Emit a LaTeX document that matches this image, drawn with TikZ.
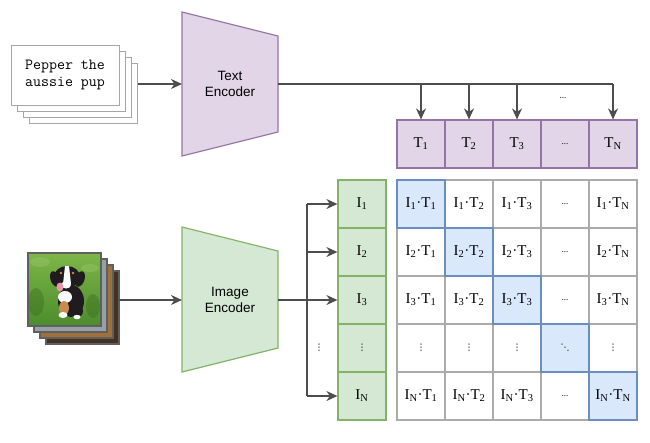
\documentclass[tikz,border=0pt]{standalone}
\usepackage{fontspec}
\setmainfont{Liberation Serif}
\newfontfamily\arialf{Liberation Sans}
\newfontfamily\dejavuf{DejaVu Sans}
\usetikzlibrary{arrows.meta}
\definecolor{ln}{HTML}{4D4D4D}
\definecolor{pfill}{HTML}{E1D5E7}
\definecolor{pline}{HTML}{9673A6}
\definecolor{gfill}{HTML}{D5E8D4}
\definecolor{gline}{HTML}{82B366}
\definecolor{bfill}{HTML}{DAE8FC}
\definecolor{bline}{HTML}{6C8EBF}
\definecolor{cline}{HTML}{ABABAB}
\definecolor{sheet}{HTML}{A6A6A6}
\definecolor{grass}{HTML}{4C8C2C}
\definecolor{grasslt}{HTML}{7DB648}
\definecolor{fur}{HTML}{1F1B1E}
\definecolor{ph4}{RGB}{70,48,34}
\definecolor{ph3}{RGB}{160,112,60}
\definecolor{ph2}{RGB}{150,160,168}
\definecolor{tongue}{RGB}{230,150,170}
\definecolor{tan}{RGB}{200,140,80}
\definecolor{brow}{RGB}{210,140,60}
\tikzset{
  arr/.style={draw=ln, line width=1.1pt, -{Stealth[length=11pt,width=10pt,inset=3.5pt]}},
  plain/.style={draw=ln, line width=1.1pt},
  paper/.style={draw=sheet, fill=white, line width=1pt, minimum width=108pt, minimum height=60pt, inner sep=0pt},
  tcell/.style={draw=pline, fill=pfill, line width=1.2pt, minimum width=48pt, minimum height=48pt, inner sep=0pt, font=\fontsize{15}{17}\selectfont},
  icell/.style={draw=gline, fill=gfill, line width=1.2pt, minimum width=48pt, minimum height=48pt, inner sep=0pt, font=\fontsize{15}{17}\selectfont},
  mcell/.style={draw=cline, fill=white, line width=1.2pt, minimum width=48pt, minimum height=48pt, inner sep=0pt, font=\fontsize{15}{17}\selectfont},
  dcell/.style={draw=bline, fill=bfill, line width=1.2pt, minimum width=48pt, minimum height=48pt, inner sep=0pt, font=\fontsize{15}{17}\selectfont},
  enc/.style={font=\arialf\fontsize{13.5}{16.5}\selectfont, align=center, inner sep=0pt},
  smalldots/.style={font=\fontsize{9}{10}\selectfont, inner sep=0pt},
  vdots/.style={font=\dejavuf\fontsize{9}{10}\selectfont, inner sep=0pt},
  photo/.style={draw=ln!90, line width=1.2pt},
}
\newcommand{\Is}[1]{I\textsubscript{#1}}
\newcommand{\Ts}[1]{T\textsubscript{#1}}
\begin{document}
\begin{tikzpicture}[x=1pt,y=-1pt]
\useasboundingbox (0,0) rectangle (650,442);

% ---------- text stack ----------
\node[paper] (s4) at (83,93) {};
\node[paper] (s3) at (77,87) {};
\node[paper] (s2) at (71,81) {};
\node[paper, font=\ttfamily\fontsize{15.5}{17}\selectfont, align=left] (s1) at (65,75) {Pepper the\\aussie pup};

% ---------- text encoder ----------
\draw[draw=pline, fill=pfill, line width=1.2pt] (182,12) -- (278,36) -- (278,132) -- (182,156) -- cycle;
\node[enc] (te) at (230,84) {Text\\Encoder};
\coordinate (teL) at (182,84);
\coordinate (teR) at (278,84);
\draw[arr] (s4.east |- teL) -- (teL);

% ---------- T row ----------
\node[tcell] (t1) at (421,144) {\Ts{1}};
\node[tcell] (t2) at (469,144) {\Ts{2}};
\node[tcell] (t3) at (517,144) {\Ts{3}};
\node[tcell] (t4) at (565,144) {\fontsize{9}{10}\selectfont ...};
\node[tcell] (t5) at (613,144) {\Ts{N}};
\draw[plain] (teR) -- (t5.north |- teR);
\foreach \k in {1,2,3,5} {\draw[arr] (t\k.north |- teR) -- (t\k.north);}
\node[smalldots] (tdots) at (563,98) {...};

% ---------- image stack ----------
\draw[photo, fill=ph4] (46,271) rectangle (119,344);
\draw[photo, fill=ph3] (40,265) rectangle (113,338);
\draw[photo, fill=ph2] (34,259) rectangle (107,332);
\begin{scope}
\clip (28,253) rectangle (101,326);
\shade[top color=grasslt, bottom color=grass] (28,253) rectangle (101,326);
\fill[grasslt!80!white, opacity=0.45] (40,262) ellipse (10 and 5);
\fill[grasslt!80!white, opacity=0.45] (90,268) ellipse (9 and 4);
\fill[grass!70!black, opacity=0.35] (36,302) ellipse (8 and 14);
\fill[grass!70!black, opacity=0.35] (93,306) ellipse (7 and 12);
% dog
\fill[fur] (71,301) ellipse (13 and 16);
\fill[fur] (67,277) ellipse (13 and 11);
\fill[fur, rotate around={20:(55,279)}] (55,279) ellipse (4.5 and 8);
\fill[fur, rotate around={-20:(80,279)}] (80,279) ellipse (4.5 and 8);
\fill[white] (65,266) -- (69,266) -- (71,284) -- (63,284) -- cycle;
\fill[white] (66,285) ellipse (5 and 3.5);
\fill[tongue] (60,287) ellipse (3.5 and 4.5);
\fill[white] (65,297) ellipse (7 and 6);
\fill[tan] (64,308) ellipse (5 and 7);
\fill[white] (63,315) ellipse (4.5 and 3);
\fill[fur] (78,311) ellipse (5 and 6);
\fill[white] (77,317) ellipse (3.5 and 2.2);
\fill[brow] (61,273) circle (1.4);
\fill[brow] (73,273) circle (1.4);
\end{scope}
\draw[photo] (28,253) rectangle (101,326);
\coordinate (imgR) at (119,300);

% ---------- image encoder ----------
\draw[draw=gline, fill=gfill, line width=1.2pt] (182,227) -- (278,251) -- (278,348) -- (182,372) -- cycle;
\node[enc] (ie) at (230,300) {Image\\Encoder};
\coordinate (ieL) at (182,300);
\coordinate (ieR) at (278,300);
\draw[arr] (imgR) -- (ieL);

% ---------- I column ----------
\node[icell] (i1) at (362,204) {\Is{1}};
\node[icell] (i2) at (362,252) {\Is{2}};
\node[icell] (i3) at (362,300) {\Is{3}};
\node[icell] (i4) at (362,348) {\dejavuf\fontsize{9}{10}\selectfont ⋮};
\node[icell] (i5) at (362,396) {\Is{N}};
\coordinate (br) at (307,300);
\draw[plain] (ieR) -- (br);
\draw[plain] (br |- i1) -- (br |- i5);
\foreach \k in {1,2,3,5} {\draw[arr] (br |- i\k) -- (i\k.west);}
\node[vdots] (idots) at (319,348) {⋮};

% ---------- matrix ----------
\foreach \r/\rl in {1/1,2/2,3/3,5/N} {
  \foreach \c/\cl in {1/1,2/2,3/3,5/N} {
    \node[mcell] (m\r\c) at ({421+48*(\c-1)},{204+48*(\r-1)}) {\Is{\rl}·\Ts{\cl}};
  }
  \node[mcell] (m\r4) at (565,{204+48*(\r-1)}) {\fontsize{9}{10}\selectfont ...};
}
\foreach \c in {1,2,3,5} {
  \node[mcell] (m4\c) at ({421+48*(\c-1)},348) {\dejavuf\fontsize{9}{10}\selectfont ⋮};
}
\node[mcell] (m44) at (565,348) {};
% diagonal
\node[dcell] (d11) at (421,204) {\Is{1}·\Ts{1}};
\node[dcell] (d22) at (469,252) {\Is{2}·\Ts{2}};
\node[dcell] (d33) at (517,300) {\Is{3}·\Ts{3}};
\node[dcell] (d44) at (565,348) {\dejavuf\fontsize{9}{10}\selectfont ⋱};
\node[dcell] (d55) at (613,396) {\Is{N}·\Ts{N}};
\end{tikzpicture}
\end{document}
